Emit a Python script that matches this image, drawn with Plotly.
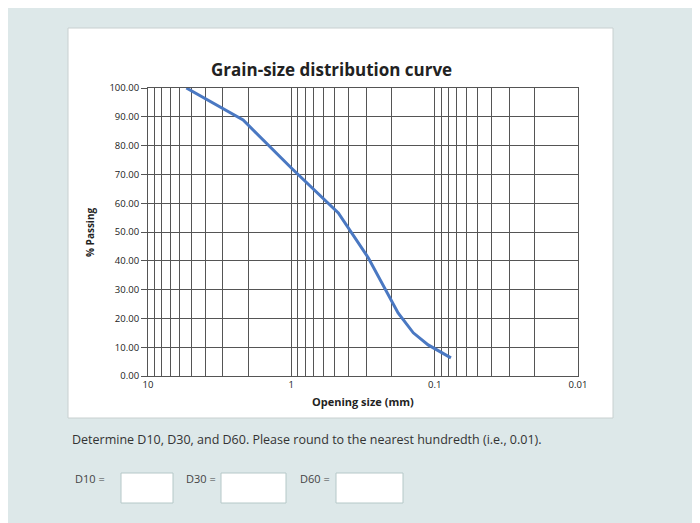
import plotly.graph_objects as go

size_mm = [5.4, 2.17, 1.0, 0.47, 0.29, 0.18, 0.141, 0.111, 0.077]
passing = [100, 88.9, 72.2, 56.6, 41.0, 21.9, 15.0, 10.8, 6.3]
y_ticks = [0, 10, 20, 30, 40, 50, 60, 70, 80, 90, 100]

grid_x = []
for dec in [0.01, 0.1, 1]:
    for m in range(1, 10):
        grid_x.append(dec * m)
grid_x.append(10)
grid_text = [("%g" % v if v in (0.01, 0.1, 1, 10) else "") for v in grid_x]

fig = go.Figure(go.Scatter(x=size_mm, y=passing, mode="lines",
                           line=dict(color="#4a78c2", width=3)))

W, H = 430, 288
def px(x): return (x - 140) / W
def py(y): return (368 - y) / H

shapes = [dict(type="rect", xref="paper", yref="paper", x0=px(60), x1=px(605), y0=py(20), y1=py(410),
               fillcolor="white", line=dict(color="#c8d0d0", width=1), layer="below")]
for a, b in [(113, 165), (213, 278), (328, 395)]:
    shapes.append(dict(type="rect", xref="paper", yref="paper", x0=px(a), x1=px(b), y0=py(465), y1=py(495),
                       fillcolor="white", line=dict(color="#b5c8c8", width=1)))
ann = [
    dict(text="<b>Grain-size distribution curve</b>", x=px(323), y=py(48), font=dict(size=17, color="#222")),
    dict(text="<b>Opening size (mm)</b>", x=px(355), y=py(403), font=dict(size=11, color="#222")),
    dict(text="<b>% Passing</b>", x=px(82), y=py(225), textangle=-90, font=dict(size=10, color="#222")),
    dict(text="Determine D10, D30, and D60. Please round to the nearest hundredth (i.e., 0.01).",
         x=px(62), y=py(442), xanchor="left", font=dict(size=12.5, color="#333")),
    dict(text="D10 =", x=px(82), y=py(480), font=dict(size=11, color="#444")),
    dict(text="D30 =", x=px(193), y=py(480), font=dict(size=11, color="#444")),
    dict(text="D60 =", x=px(307), y=py(480), font=dict(size=11, color="#444")),
]
for a in ann:
    a.update(xref="paper", yref="paper", showarrow=False)
    a.setdefault("xanchor", "center")

fig.update_layout(
    width=700, height=523, margin=dict(l=140, r=130, t=80, b=155, autoexpand=False),
    paper_bgcolor="#dde8e9", plot_bgcolor="white", showlegend=False,
    font=dict(family="Open Sans", size=9.5, color="#222"),
    shapes=shapes, annotations=ann,
    xaxis=dict(type="log", range=[1, -2], tickvals=grid_x, ticktext=grid_text, automargin=False,
               showgrid=True, gridcolor="#555", gridwidth=1, zeroline=False,
               showline=True, linecolor="#555", mirror=True, ticks=""),
    yaxis=dict(range=[0, 100], tickvals=y_ticks, ticktext=["%.2f" % v for v in y_ticks], automargin=False,
               showgrid=True, gridcolor="#555", zeroline=False, ticks="outside", ticklen=6,
               tickcolor="#555", showline=True, linecolor="#555", mirror=True),
)
fig.write_html("out.html")
